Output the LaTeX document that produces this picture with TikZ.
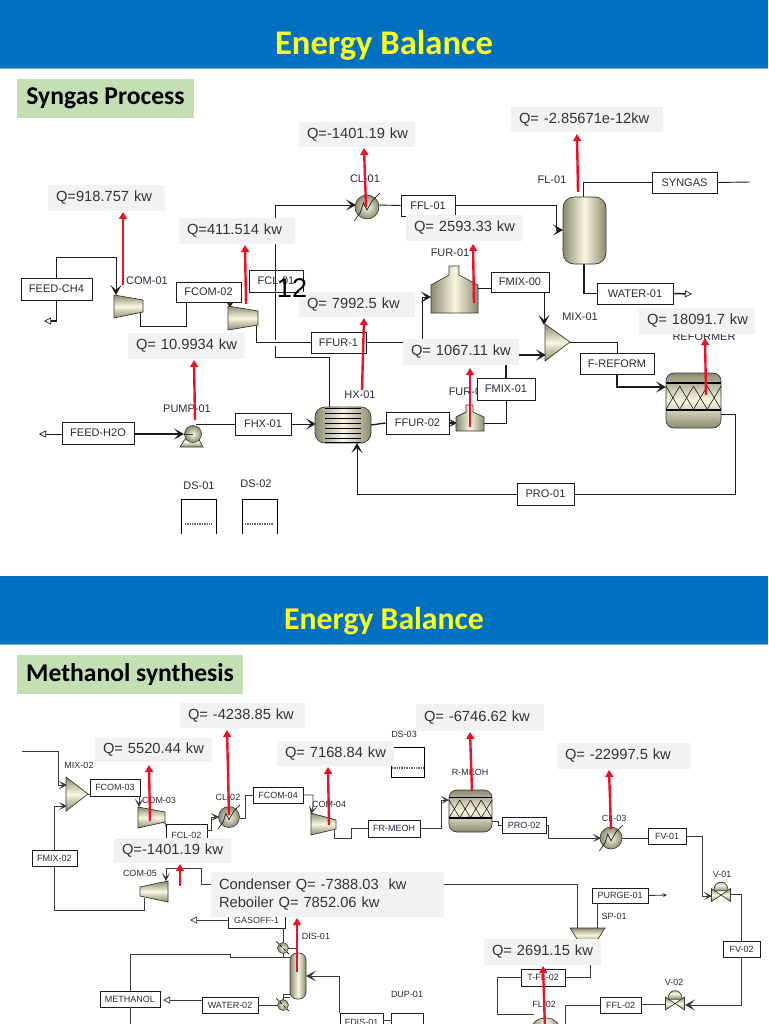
\documentclass[tikz,border=0pt]{standalone}
\usepackage{fontspec}
\setmainfont{Liberation Sans}
\newfontfamily\titlefont{Carlito}[BoldFont={Carlito Bold}]
\usetikzlibrary{arrows.meta}
\definecolor{band}{HTML}{0070C0}
\definecolor{bandedge}{HTML}{7FB0D8}
\definecolor{titley}{HTML}{FFFF1E}
\definecolor{sect}{HTML}{C5DFB4}
\definecolor{qgray}{HTML}{F2F2F2}
\definecolor{qtext}{HTML}{333333}
\definecolor{heatred}{HTML}{EE1125}
\definecolor{metalD}{HTML}{8A8A70}
\definecolor{metalL}{HTML}{F8F8E2}
\definecolor{eqline}{HTML}{3A3A30}
\definecolor{lineA}{HTML}{1C1C1C}
\definecolor{lineB}{HTML}{3A3A3A}
\definecolor{stext}{HTML}{2A2A3C}
\def\stfont{\fontsize{11}{12}\selectfont}
\tikzset{
  stbox/.style={draw=lineA,line width=0.9pt,fill=white,inner sep=0pt,text=stext,font=\stfont},
  stboxopen/.style={stbox,fill=none},
  eqlabel/.style={inner sep=0pt,text=stext,font=\stfont},
  stream/.style={draw=lineA,line width=0.9pt,rounded corners=0pt},
  thickstream/.style={stream,line width=1.5pt},
  into/.style={-{Stealth[length=10pt,width=11pt,inset=5pt]}},
  intosmall/.style={-{Stealth[length=8pt,width=8pt,inset=4pt]}},
  outfeed/.style={-{Stealth[open,length=7pt,width=7pt,inset=0pt,fill=white,line width=0.7pt]}},
  metalv/.style={top color=metalD,bottom color=metalD,middle color=metalL,draw=eqline,line width=0.7pt},
  metalh/.style={left color=metalD,right color=metalD,middle color=metalL,draw=eqline,line width=0.7pt},
  heat/.style={draw=heatred,line width=2.4pt,-{Triangle[length=7pt,width=8pt]}},
  qnode/.style={fill=qgray,text=qtext,inner sep=0pt,align=left,font=\fontsize{14.7}{18.5}\selectfont},
  secthead/.style={fill=sect,text=black,inner sep=0pt,font=\titlefont\bfseries\fontsize{25.6}{28}\selectfont},
}
% stream box: name x1 y1 x2 y2 text
\newcommand{\strbox}[7][stbox]{%
  \pgfmathsetmacro\bcx{(#3+#5)/2}\pgfmathsetmacro\bcy{(#4+#6)/2}%
  \pgfmathsetmacro\bw{#5-#3}\pgfmathsetmacro\bh{#6-#4}%
  \node[#1,minimum width=\bw pt,minimum height=\bh pt] (#2) at (\bcx,\bcy) {#7};}
% heat label: name x1 y1 x2 y2 text
\newcommand{\qlabel}[6]{%
  \pgfmathsetmacro\bcx{(#2+#4)/2}\pgfmathsetmacro\bcy{(#3+#5)/2}%
  \pgfmathsetmacro\bw{#4-#2}\pgfmathsetmacro\bh{#5-#3}\pgfmathsetmacro\btw{#4-#2-8}%
  \node[qnode,text width=\btw pt,minimum width=\bw pt,minimum height=\bh pt] (#1) at (\bcx,\bcy) {\hspace*{4pt}#6};}
\newcommand{\heatarrow}[5]{%
  \coordinate (#1s) at (#2,#3);\coordinate (#1e) at (#4,#5);\draw[heat] (#1s) -- (#1e);}
\newcommand{\compr}[6]{\path[metalv] (#1,#3) -- (#2,#5) -- (#2,#6) -- (#1,#4) -- cycle;}
\newcommand{\hexball}[3]{% cx cy r
  \begin{scope}[shift={(#1,#2)}]
    \path[inner color=metalL,outer color=metalD,draw=eqline,line width=0.6pt] (0,0) circle (#3);
    \draw[lineA,line width=0.7pt] (-#3*1.05,#3*1.15) -- (-#3*0.55,#3*0.45);
    \draw[lineA,line width=0.7pt] (-#3*0.55,#3*0.45) -- (-#3*0.3,-#3*0.35) -- (0,#3*0.25) -- (#3*0.45,-#3*0.55) -- (#3*1.05,-#3*1.15);
  \end{scope}}
\newcommand{\vessel}[5]{\path[metalh,rounded corners=#5pt] (#1,#2) rectangle (#3,#4);}
\newcommand{\reactor}[4]{%
  \path[metalv,rounded corners=8pt] (#1,#2) rectangle (#3,#4);
  \pgfmathsetmacro\rw{#3-#1}\pgfmathsetmacro\rh{#4-#2}%
  \begin{scope}[shift={(#1,#2)}]
    \draw[black,line width=1.2pt] (0,0.18*\rh) -- (\rw,0.18*\rh);
    \draw[black,line width=1.4pt] (0,0.67*\rh) -- (\rw,0.67*\rh);
    \foreach \i in {0,1,2,3}{
      \draw[black,line width=0.5pt] (\i*\rw/4,0.24*\rh) -- (\i*\rw/4+\rw/4,0.66*\rh);
      \draw[black,line width=0.5pt] (\i*\rw/4,0.66*\rh) -- (\i*\rw/4+\rw/4,0.24*\rh);}
  \end{scope}}
\newcommand{\valve}[3]{% cx cy r
  \begin{scope}[shift={(#1,#2)}]
    \path[metalv] (-#3*.75,-#3*.45) .. controls (-#3*.75,-#3*1.65) and (#3*.75,-#3*1.65) .. (#3*.75,-#3*.45) -- cycle;
    \path[metalv] (-#3,-#3*.68) -- (#3,#3*.68) -- (#3,-#3*.68) -- (-#3,#3*.68) -- cycle;
  \end{scope}}
\newcommand{\tinyball}[3]{% cx cy r
  \begin{scope}[shift={(#1,#2)}]
    \path[inner color=metalL,outer color=metalD,draw=eqline,line width=0.5pt] (0,0) circle (#3);
    \draw[black,line width=0.7pt,densely dashed] (-#3*1.2,-#3*1.2) -- (#3*1.2,#3*1.2);
  \end{scope}}
\newcommand{\dsmark}[3]{\draw[gray!80!black,line width=1.6pt,dash pattern=on 1pt off 0.7pt] (#1,#3) -- (#2,#3);}
\begin{document}
\begin{tikzpicture}[x=1pt,y=-1pt]
\useasboundingbox (0,0) rectangle (768,1024);
\fill[white] (0,0) rectangle (768,1024);
% ---- header bands
\fill[band] (0,0) rectangle (768,68);
\draw[bandedge,line width=0.8pt] (0,68.5) -- (768,68.5);
\fill[band] (0,576) rectangle (768,644);
\draw[bandedge,line width=0.8pt] (0,644.5) -- (768,644.5);
\node[text=titley,inner sep=0pt,font=\titlefont\bfseries\fontsize{34.6}{36}\selectfont] (title1) at (384,45) {Energy Balance};
\node[text=titley,inner sep=0pt,font=\titlefont\bfseries\fontsize{31.7}{34}\selectfont] (title2) at (384,621) {Energy Balance};
\node[secthead,minimum width=177pt,minimum height=39pt] (sec1) at (105.5,98.5) {Syngas Process};
\node[secthead,minimum width=226pt,minimum height=39pt] (sec2) at (130,674.5) {Methanol synthesis};

% ---- equipment ports (named coordinates)
\coordinate (com1in) at (116,295);
\coordinate (com1out) at (140,312);
\coordinate (com2in) at (230,307);
\coordinate (com2out) at (256,325);
\coordinate (cl1in) at (356,205);
\coordinate (cl1out) at (378,205);
\coordinate (fl1in) at (563,230);
\coordinate (fl1top) at (583,197);
\coordinate (fl1bot) at (584,264);
\coordinate (fur1in) at (431,297);
\coordinate (fur1out) at (478,288);
\coordinate (mix1top) at (544,325);
\coordinate (mix1low) at (546,355);
\coordinate (mix1out) at (570,342);
\coordinate (refin) at (666,387);
\coordinate (refout) at (721,414);
\coordinate (pumpin) at (184,434);
\coordinate (pumpout) at (196,424);
\coordinate (hxtop) at (329,407);
\coordinate (hxin) at (316,424);
\coordinate (hxout) at (371,425);
\coordinate (hxbot) at (357,443);
\coordinate (fur2in) at (457,423);
\coordinate (fur2out) at (484,423);
\coordinate (feedout1) at (44,321);
\coordinate (feedout2) at (39,434);
\coordinate (waterend) at (692,294);
\coordinate (synend) at (750,182);

% ---- section 1 stream boxes and labels
\def\stfont{\fontsize{11}{12}\selectfont}
\node[eqlabel] (lfur2) at (468,392) {FUR-02};
\strbox{fch4}{21}{278}{92}{300}{FEED-CH4}
\strbox{fcom2}{176}{282}{241}{302}{FCOM-02}
\strbox[stboxopen]{fcl1}{249}{270}{303}{292}{FCL-01}
\strbox{ffur1}{311}{332}{366}{353}{FFUR-1}
\strbox{ffl1}{401}{195}{455}{216}{FFL-01}
\strbox{syngas}{652}{172}{717}{193}{SYNGAS}
\strbox{fmix0}{491}{272}{549}{292}{FMIX-00}
\strbox{water1}{597}{283}{673}{304}{WATER-01}
\strbox{frefm}{580}{353}{654}{374}{F-REFORM}
\strbox{fmix1}{477}{378}{535}{400}{FMIX-01}
\strbox{ffur2}{386}{412}{449}{434}{FFUR-02}
\strbox{pro1}{517}{483}{574}{505}{PRO-01}
\strbox{fhx1}{235}{413}{291}{435}{FHX-01}
\strbox{fh2o}{62}{422}{134}{444}{FEED-H2O}
\node[eqlabel] (lcom1) at (147,281) {COM-01};
\node[eqlabel] (lcl1) at (365,179) {CL-01};
\node[eqlabel] (lfl1) at (552,180) {FL-01};
\node[eqlabel] (lfur1) at (450,253) {FUR-01};
\node[eqlabel] (lmix1) at (580,317) {MIX-01};
\node[eqlabel] (lref) at (704,337) {REFORMER};
\node[eqlabel] (lpump) at (187,409) {PUMP-01};
\node[eqlabel] (lhx) at (360,395) {HX-01};
\node[eqlabel] (lds1) at (199,486) {DS-01};
\node[eqlabel] (lds2) at (256,484) {DS-02};

% ---- section 1 connectors
\draw[stream,into] (fch4.north) |- (116,257) -- (com1in);
\draw[thickstream,outfeed] (fch4.south) |- (feedout1);
\draw[stream] (com1out) |- (186,326) -- (fcom2.south -| 186,0);
\draw[stream,-{Stealth[length=5pt,width=7pt]}] (fcom2.south -| com2in) -- (com2in);
\draw[stream,into] (hxtop) |- (275,357) -- (275,205) -- (cl1in);
\draw[stream,preaction={draw=white,line width=6pt}] (com2out) |- (ffur1.west);
\draw[stream] (ffur1.east) -- (422,342.5) -- (422,297);
\draw[stream,into] (422,297) -- (fur1in);
\draw[stream] (cl1out) -- (ffl1.west);
\draw[stream,into] (ffl1.east) -| (556,230) -- (fl1in);
\draw[stream] (fl1top) |- (syngas.west);
\draw[stream] (syngas.east) -- (synend);
\draw[thickstream] (fl1bot) |- (water1.west);
\draw[thickstream,outfeed] (water1.east) -- (waterend);
\draw[stream] (fur1out) -- (fur1out -| fmix0.west);
\draw[stream,into] (fmix0.south -| mix1top) -- (mix1top);
\draw[stream] (fur2out) -| (fmix1.south);
\draw[thickstream,into] (fmix1.north) |- (mix1low);
\draw[stream] (mix1out) -| (frefm.north);
\draw[thickstream,into] (frefm.south) |- (refin);
\draw[stream] (refout) -| (735,494) -- (pro1.east);
\draw[stream,into] (pro1.west) -| (hxbot);
\draw[stream,line width=1.3pt] (hxout) -- (ffur2.west);
\draw[thickstream,intosmall] (ffur2.east |- fur2in) -- (fur2in);
\draw[thickstream,into] (fh2o.east |- pumpin) -- (pumpin);
\draw[stream,outfeed] (fh2o.west |- feedout2) -- (feedout2);
\draw[stream] (pumpout) -- (pumpout -| fhx1.west);
\draw[stream,into] (fhx1.east |- hxin) -- (hxin);

% ---- section 1 equipment
\compr{114}{143}{295}{318}{300}{312}
\compr{228}{258}{306}{330}{311}{325}
\hexball{367}{207}{12}
\vessel{563}{197}{606}{264}{11}
% furnace 1
\path[metalh] (431,313) -- (431,285) -- (449,275) -- (449,266) -- (459,266) -- (459,275) -- (478,285) -- (478,313) -- cycle;
% mixer 1
\path[metalv] (545,324) -- (570,342) -- (545,361) -- cycle;
\reactor{666}{373}{721}{428}
% pump
\path[metalv] (180,447) -- (187,436) -- (197,436) -- (203,447) -- cycle;
\path[inner color=metalL,outer color=metalD,draw=eqline,line width=0.6pt] (193,434) circle (8.5);
\draw[eqline,line width=0.8pt] (184,434) -- (193,434);
% heat exchanger
\path[metalh,rounded corners=10pt] (315,407) rectangle (371,443);
\foreach \ty in {408,413,418,423,428,433,438,442}{\draw[black,line width=0.8pt] (325,\ty) -- (361,\ty);}
% furnace 2
\path[metalh] (456,431) -- (456,417) -- (466,412) -- (466,405) -- (473,405) -- (473,412) -- (484,417) -- (484,431) -- cycle;
% data-set blocks
\draw[black,line width=1pt] (181.5,534) -- (181.5,499.5) -- (216.5,499.5) -- (216.5,534);
\draw[black,line width=1pt] (242.5,534) -- (242.5,499.5) -- (277,499.5) -- (277,534);
\dsmark{185}{212}{524}
\dsmark{245}{273}{524}

% ---- section 2 ports
\def\stfont{\fontsize{9}{10}\selectfont}
\coordinate (inlet) at (22,751);
\coordinate (mix2a) at (67,785);
\coordinate (mix2b) at (67,806);
\coordinate (mix2out) at (88,794);
\coordinate (com3in) at (139,807);
\coordinate (com3out) at (163,823);
\coordinate (cl2in) at (219,817);
\coordinate (cl2out) at (240,818);
\coordinate (com4in) at (311,814);
\coordinate (com4out) at (334,829);
\coordinate (rmin) at (449,800);
\coordinate (rmout) at (492,821);
\coordinate (cl3in) at (601,838);
\coordinate (cl3out) at (622,838);
\coordinate (v1in) at (712,896);
\coordinate (v1out) at (730,894);
\coordinate (v2in) at (685,1005);
\coordinate (v2out) at (665,1004);
\coordinate (sptop) at (577,928);
\coordinate (spb1) at (597,928);
\coordinate (spb2) at (590,940);
\coordinate (fl2top) at (534,1014);
\coordinate (fl2side) at (565,1030);
\coordinate (com5in) at (166,881);
\coordinate (com5bot) at (144,898);
\coordinate (purgeend) at (667,895);
\coordinate (gasend) at (190,920);
\coordinate (watend) at (163,1000);
\coordinate (cond) at (283,948);
\coordinate (reb) at (283,1005);
\coordinate (disin) at (306,976);
\coordinate (distop) at (296,953);
\coordinate (disbot) at (297,999);
\coordinate (disdraw) at (290,957);
\coordinate (methend) at (130,1024);

% ---- section 2 stream boxes and labels
\strbox{fcom3}{90}{779}{140}{796}{FCOM-03}
\strbox{fcl2}{166}{824}{207}{846}{FCL-02}
\strbox{fcom4}{253}{787}{303}{803}{FCOM-04}
\strbox{frmeoh}{368}{820}{420}{837}{FR-MEOH}
\strbox{pro2}{502}{817}{546}{833}{PRO-02}
\strbox{fv1}{648}{828}{686}{844}{FV-01}
\strbox{fv2}{723}{941}{760}{957}{FV-02}
\strbox{ffl2}{600}{997}{641}{1013}{FFL-02}
\strbox{tfl2}{521}{969}{565}{986}{T-FL-02}
\strbox{purge}{592}{888}{648}{903}{PURGE-01}
\strbox{fmix2}{32}{850}{77}{866}{FMIX-02}
\strbox{gasoff}{228}{912}{285}{928}{GASOFF-1}
\strbox{meth}{100}{991}{160}{1007}{METHANOL}
\strbox{water2}{202}{997}{258}{1013}{WATER-02}
\strbox{fdis}{340}{1013}{383}{1031}{FDIS-01}
\strbox{dup}{391}{1013}{423}{1040}{}
\node[eqlabel] (lmix2) at (79,765) {MIX-02};
\node[eqlabel] (lcom3) at (159,800) {COM-03};
\node[eqlabel] (lcl2) at (228,797) {CL-02};
\node[eqlabel] (lcom4) at (329,804) {COM-04};
\node[eqlabel] (lcom5) at (140,873) {COM-05};
\node[eqlabel] (lrm) at (470,772) {R-MEOH};
\node[eqlabel] (lcl3) at (614,818) {CL-03};
\node[eqlabel] (lds3) at (404,734) {DS-03};
\node[eqlabel] (ldis) at (316,936) {DIS-01};
\node[eqlabel] (lsp) at (614,916) {SP-01};
\node[eqlabel] (lv1) at (722,874) {V-01};
\node[eqlabel] (lv2) at (674,982) {V-02};
\node[eqlabel] (lfl2) at (544,1004) {FL-02};
\node[eqlabel] (ldup) at (407,994) {DUP-01};

% ---- section 2 connectors
\tikzset{stream/.append style={draw=lineB,line width=0.85pt}}
\draw[stream,intosmall] (inlet) -| (58,785) -- (mix2a);
\draw[stream,intosmall] (fmix2.north) |- (mix2b);
\draw[stream] (fmix2.south) |- (144,910) -- (com5bot);
\draw[stream] (mix2out) -- (fcom3.west |- mix2out);
\draw[stream,intosmall] (fcom3.south -| com3in) -- (com3in);
\draw[stream] (com3out) -- (fcl2.west |- com3out) -- (166,827);
\draw[stream,intosmall] (fcl2.east |- 0,830) -- (211,830) -- (211,817) -- (cl2in);
\draw[stream] (cl2out) -| (245,795) -- (fcom4.west |- 0,795);
\draw[stream,intosmall] (fcom4.east |- 0,795) -| (313,806) -- (com4in);
\draw[stream] (com4out) |- (351,838) |- (frmeoh.west);
\draw[stream,intosmall] (frmeoh.east) -| (441,800) -- (rmin);
\draw[stream] (rmout) -| (498,825) -- (pro2.west |- 0,825);
\draw[stream,intosmall] (pro2.east) -| (548,838) -- (cl3in);
\draw[stream] (cl3out) -- (fv1.west |- cl3out);
\draw[stream,intosmall] (fv1.east |- 0,836) -| (702,896) -- (v1in);
\draw[stream] (v1out) -| (fv2.north);
\draw[stream,into] (fv2.south) |- (v2in);
\draw[stream] (v2out) -- (ffl2.east |- v2out);
\draw[stream] (ffl2.west) -| (fl2side);
\draw[stream] (tfl2.west) -| (497,1014) -- (fl2top);
\draw[stream] (tfl2.east) -| (spb2);
\draw[stream] (purge.south -| spb1) -- (spb1);
\draw[stream,-{Stealth[length=4pt,width=4pt]}] (purge.east) -- (purgeend);
\draw[stream,intosmall] (166,868) -- (com5in);
\draw[stream] (166,868) -| (201,884) -- (211,884);
\draw[stream] (443,884) -| (sptop);
\draw[stream,outfeed] (gasoff.west |- 0,920) -- (gasend);
\draw[stream] (gasoff.south -| cond) -- (cond);
\draw[stream] (cond) -| (distop);
\draw[stream] (cond) -- (283,958);
\draw[stream] (disdraw) -- (230,957) -- (230,954) -- (130,954) -- (meth.north);
\draw[stream] (meth.south) -- (methend);
\draw[stream,outfeed] (water2.west |- watend) -- (watend);
\draw[stream] (water2.east) -- (reb);
\draw[stream] (reb) |- (297,994);
\draw[stream] (reb) -- (283,997) -- (290,997);
\draw[stream,into] (fdis.north west) |- (disin);
\draw[stream] (fdis.east |- 0,1020) -- (dup.west |- 0,1020);

% ---- section 2 equipment
\path[metalv] (66,777) -- (88,794) -- (66,811) -- cycle;
\compr{138}{165}{807}{828}{812}{822}
\hexball{229}{817}{10.5}
\compr{311}{336}{813}{835}{820}{829}
\reactor{449}{790}{492}{832}
\hexball{611}{838}{11}
\valve{721}{895}{9.5}
\valve{675}{1003.5}{9.5}
\path[metalv] (570,928) -- (605,928) -- (596,942) -- (579,942) -- cycle;
\vessel{531}{1018}{560}{1050}{13}
\compr{140}{168}{887}{896}{881}{902}
\vessel{290}{953}{306}{999}{7}
\tinyball{283}{948}{5.5}
\tinyball{283}{1005}{5.5}
\draw[black,line width=0.8pt] (391,747) rectangle (424,777);
\dsmark{392}{423}{768}

% ---- heat duty labels
\qlabel{q1}{48}{185}{165}{211}{Q=918.757 kw}
\qlabel{q2}{179}{218}{295}{244}{Q=411.514 kw}
\qlabel{q3}{299}{122}{415}{147}{Q=-1401.19 kw}
\qlabel{q4}{511}{107}{663}{132}{Q= -2.85671e-12kw}
\qlabel{q5}{406}{215}{523}{241}{Q= 2593.33 kw}
\qlabel{q6}{299}{292}{415}{317}{Q= 7992.5 kw}
\qlabel{q7}{128}{333}{245}{359}{Q= 10.9934 kw}
\qlabel{q8}{403}{339}{519}{365}{Q= 1067.11 kw}
\qlabel{q9}{639}{308}{755}{334}{Q= 18091.7 kw}
\qlabel{q10}{95}{738}{212}{762}{Q= 5520.44 kw}
\qlabel{q11}{180}{703}{305}{728}{Q= -4238.85 kw}
\qlabel{q12}{277}{741}{394}{766}{Q= 7168.84 kw}
\qlabel{q13}{416}{704}{544}{731}{Q= -6746.62 kw}
\qlabel{q14}{557}{743}{691}{769}{Q= -22997.5 kw}
\qlabel{q15}{114}{838}{231}{863}{Q=-1401.19 kw}
\qlabel{q16}{211}{872}{444}{917}{Condenser Q= -7388.03\ \ kw\\\hspace*{4pt}Reboiler Q= 7852.06 kw}
\qlabel{q17}{484}{939}{601}{965}{Q= 2691.15 kw}

% ---- heat arrows
\heatarrow{h1}{123}{285}{123}{212}
\heatarrow{h2}{246}{304}{245}{245}
\heatarrow{h3}{366}{207}{364}{148}
\heatarrow{h4}{578}{192}{577}{134}
\heatarrow{h5}{474}{303}{473}{244}
\heatarrow{h6}{362}{390}{364}{318}
\heatarrow{h7}{195}{420}{194}{360}
\heatarrow{h8}{470}{427}{470}{368}
\heatarrow{h9}{706}{395}{705}{338}
\heatarrow{h10}{150}{821}{149}{765}
\heatarrow{h11}{229}{815}{227}{730}
\heatarrow{h12}{329}{825}{328}{767}
\heatarrow{h13}{472}{791}{470}{732}
\heatarrow{h14}{611}{829}{609}{770}
\heatarrow{h15}{180}{886}{180}{864}
\heatarrow{h16}{297}{972}{297}{918}
\heatarrow{h17}{545}{1030}{543}{966}

\node[inner sep=0pt,text=black,font=\fontsize{27}{30}\selectfont] (twelve) at (292,288) {12};
\end{tikzpicture}
\end{document}
